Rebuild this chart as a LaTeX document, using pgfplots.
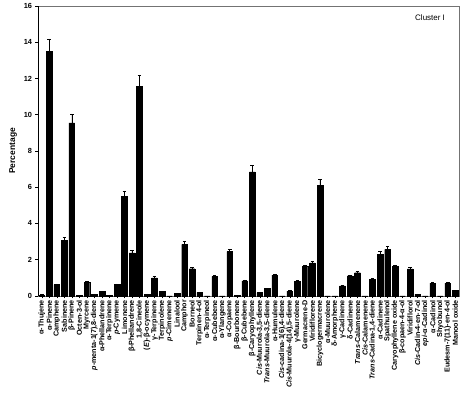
\documentclass[border=0pt]{standalone}
\usepackage{fontspec}
\setmainfont{Liberation Sans}
\usepackage{pgfplots}
\pgfplotsset{compat=1.18}
\usepackage{pgfplotstable}
\pgfplotstableread{
x y e
1 0.05 0.02
2 13.50 0.68
3 0.62 0.05
4 3.05 0.20
5 9.55 0.50
6 0.02 0.00
7 0.75 0.05
8 0.10 0.02
9 0.24 0.03
10 0.05 0.01
11 0.62 0.05
12 5.50 0.29
13 2.38 0.13
14 11.55 0.60
15 0.10 0.02
16 1.00 0.10
17 0.24 0.03
18 0 0
19 0.13 0.02
20 2.85 0.15
21 1.50 0.06
22 0.20 0.02
23 0 0
24 1.08 0.05
25 0 0
26 2.45 0.12
27 0.05 0.01
28 0.83 0.05
29 6.84 0.35
30 0.18 0.02
31 0.40 0.03
32 1.15 0.05
33 0 0
34 0.26 0.03
35 0.80 0.05
36 1.62 0.08
37 1.82 0.12
38 6.10 0.33
39 0 0
40 0 0
41 0.55 0.03
42 1.10 0.06
43 1.28 0.06
44 0 0
45 0.92 0.04
46 2.30 0.14
47 2.57 0.18
48 1.62 0.07
49 0 0
50 1.49 0.07
51 0.09 0.02
52 0 0
53 0.70 0.04
54 0 0
55 0.70 0.04
56 0.29 0.03
}\datatable
\begin{document}
\begin{tikzpicture}
\begin{axis}[
  scale only axis, width=421bp, height=290bp,
  xmin=0.5, xmax=56.5, ymin=0, ymax=16,
  ytick={0,2,...,16},
  xtick={1,...,56},
  xticklabels={α-Thujene, α-Pinene, Camphene, Sabinene, β-Pinene, Octen-3-ol, Myrcene,
    {\textit{p}-menta-1(7),8-diene}, α-Phellandrene, α-Terpinene, \textit{p}-Cymene, Limonene,
    β-Phellandrene, {1,8-Cineole}, (\textit{E})-β-ocymene, γ-Terpinene, Terpinolene,
    \textit{p}-Cimenene, Linalool, Camphor, Borneol, Terpinen-4-ol, α-Terpineol,
    α-Cubebene, α-Ylangene, α-Copaene, β-Bourbonene, β-Cubebene, β-Caryophyllene,
    {\textit{Cis}-Muurola-3,5-diene}, {\textit{Trans}-Muurola-3,5-diene}, α-Humulene,
    {\textit{Cis}-cadina-1(6),4-diene}, {\textit{Cis}-Muurola-4(14),5-diene}, γ-Muurolene,
    Germacrene-D, Viridiflorene, Bicyclogermacrene, α-Muurolene, δ-Amorphene,
    γ-Cadinene, δ-Cadinene, \textit{Trans}-Calamenene, \textit{Cis}-Calamenene,
    {\textit{Trans}-Cadina-1,4-diene}, α-Cadinene, Spathulenol, Caryophyllene oxide,
    β-copaen-4-α-ol, Viridiflorol, \textit{Cis}-Cadin-4-en-7-ol, \textit{epi}-α-Cadinol,
    α-Cadinol, Shyobunol, Eudesm-7(11)-en-4-ol, Manool oxide},
  xticklabel style={rotate=90, anchor=east, font=\bfseries\fontsize{7.2}{7.5}\selectfont, inner sep=1.5bp},
  yticklabel style={font=\bfseries\fontsize{7.4}{8}\selectfont},
  /pgf/number format/assume math mode=true,
  tick align=outside, xtick pos=bottom, ytick pos=left,
  major tick length=2.5bp,
  tick style={black, line width=0.5pt},
  axis line style={black!55, line width=0.7pt},
  ylabel={Percentage},
  ylabel style={font=\bfseries\fontsize{8.5}{10}\selectfont},
  ybar, bar width=5.7bp,
  clip=false,
]
\addplot[fill=black, draw=black,
  error bars/.cd, y dir=plus, y explicit,
  error bar style={black, line width=0.5pt},
  error mark options={rotate=90, mark size=1.8bp, black, line width=0.5pt}]
  table[x=x, y=y, y error=e] {\datatable};
\draw[black, line width=0.8pt] (rel axis cs:0,0) -- (rel axis cs:0,1);
\node[anchor=north east, font=\fontsize{8}{9}\selectfont, inner sep=0pt] at (rel axis cs:0.967,0.972) {Cluster I};
\end{axis}
\path (current axis.south west) ++(-38bp,-104bp) rectangle ++(474bp,399bp);
\end{tikzpicture}
\end{document}
